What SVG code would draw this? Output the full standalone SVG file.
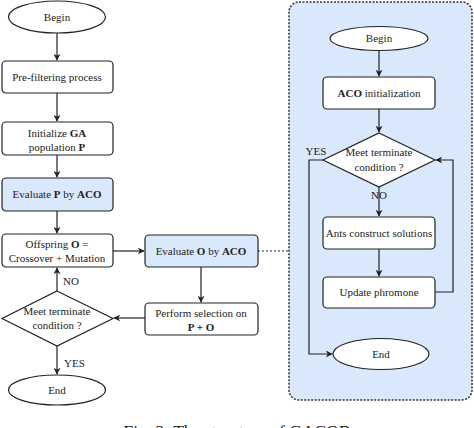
<svg xmlns="http://www.w3.org/2000/svg" width="474" height="428" viewBox="0 0 474 428">
<style>
text{font-family:"Liberation Serif","Times New Roman",serif;font-size:11px;fill:#222;text-anchor:middle}
.b{font-weight:bold}
.n{fill:#fff;stroke:#222;stroke-width:1.2}
.bl{fill:#dae8fc;stroke:#222;stroke-width:1.2}
.c{fill:none;stroke:#222;stroke-width:1.2}
</style>
<defs>
<marker id="a" viewBox="0 0 10 10" refX="9" refY="5" markerWidth="7" markerHeight="7" orient="auto" markerUnits="userSpaceOnUse">
<path d="M0,0 L10,5 L0,10 L3,5 z" fill="#222"/>
</marker>
</defs>
<rect x="289" y="2" width="183" height="398" rx="10" fill="#dae8fc" stroke="#333" stroke-width="1.5" stroke-dasharray="2,1.5"/>
<g id="connectors">
<line class="c" x1="57" y1="33" x2="57" y2="60" marker-end="url(#a)"/>
<line class="c" x1="57" y1="93" x2="57" y2="121" marker-end="url(#a)"/>
<line class="c" x1="57" y1="155" x2="57" y2="177" marker-end="url(#a)"/>
<line class="c" x1="57" y1="211" x2="57" y2="233" marker-end="url(#a)"/>
<line class="c" x1="113" y1="251" x2="144" y2="251" marker-end="url(#a)"/>
<line class="c" x1="258" y1="251" x2="289" y2="251" stroke-dasharray="2,2"/>
<line class="c" x1="201" y1="267" x2="201" y2="302" marker-end="url(#a)"/>
<line class="c" x1="145" y1="318" x2="114" y2="318" marker-end="url(#a)"/>
<line class="c" x1="57" y1="291" x2="57" y2="268" marker-end="url(#a)"/>
<line class="c" x1="57" y1="346" x2="57" y2="374" marker-end="url(#a)"/>
<line class="c" x1="379" y1="50" x2="379" y2="76" marker-end="url(#a)"/>
<line class="c" x1="379" y1="109" x2="379" y2="132" marker-end="url(#a)"/>
<line class="c" x1="379" y1="187" x2="379" y2="216" marker-end="url(#a)"/>
<line class="c" x1="379" y1="249" x2="379" y2="276" marker-end="url(#a)"/>
<polyline class="c" points="435,292 453,292 453,160 436,160" marker-end="url(#a)"/>
<polyline class="c" points="323,160 309,160 309,354 332,354" marker-end="url(#a)"/>
<text x="63" y="285" style="text-anchor:start">NO</text>
<text x="64" y="367" style="text-anchor:start">YES</text>
<text x="379" y="199">NO</text>
<text x="316" y="155">YES</text>
</g>
<g id="begin1"><ellipse class="n" cx="57" cy="17" rx="48.5" ry="16"/><text x="57" y="21">Begin</text></g>
<g id="prefilter"><rect class="n" x="2" y="61" width="111" height="32" rx="4"/><text x="57" y="81">Pre-filtering process</text></g>
<g id="initga"><rect class="n" x="2" y="122" width="111" height="33" rx="4"/><text x="57" y="137">Initialize <tspan class="b">GA</tspan></text><text x="57" y="151">population <tspan class="b">P</tspan></text></g>
<g id="evalp"><rect class="bl" x="2" y="178" width="111" height="33" rx="4"/><text x="57" y="198">Evaluate <tspan class="b">P</tspan> by <tspan class="b">ACO</tspan></text></g>
<g id="offspring"><rect class="n" x="2" y="234" width="111" height="33" rx="4"/><text x="57" y="248">Offspring <tspan class="b">O</tspan> =</text><text x="57" y="262">Crossover + Mutation</text></g>
<g id="evalo"><rect class="bl" x="145" y="235" width="113" height="32" rx="4"/><text x="201" y="255">Evaluate <tspan class="b">O</tspan> by <tspan class="b">ACO</tspan></text></g>
<g id="select"><rect class="n" x="145" y="303" width="113" height="32" rx="4"/><text x="201" y="317">Perform selection on</text><text x="201" y="331" class="b">P + O</text></g>
<g id="cond1"><polygon class="n" points="57,291 113,318.5 57,346 2,318.5"/><text x="57" y="315">Meet terminate</text><text x="57" y="329">condition ?</text></g>
<g id="end1"><ellipse class="n" cx="57" cy="390" rx="48.5" ry="15"/><text x="57" y="394">End</text></g>
<g id="begin2"><ellipse class="n" cx="379" cy="38.5" rx="49" ry="12"/><text x="379" y="42">Begin</text></g>
<g id="acoinit"><rect class="n" x="323" y="77" width="112" height="32" rx="4"/><text x="379" y="97"><tspan class="b">ACO</tspan> initialization</text></g>
<g id="cond2"><polygon class="n" points="379,133 435,160 379,187 323,160"/><text x="379" y="156">Meet terminate</text><text x="379" y="171">condition ?</text></g>
<g id="ants"><rect class="n" x="323" y="217" width="112" height="32" rx="4"/><text x="379" y="237">Ants construct solutions</text></g>
<g id="update"><rect class="n" x="323" y="277" width="112" height="31" rx="4"/><text x="379" y="296">Update phromone</text></g>
<g id="end2"><ellipse class="n" cx="381" cy="354" rx="48" ry="15.5"/><text x="381" y="358">End</text></g>
<text x="237" y="437" style="font-size:17.5px">Fig. 2: The structure of GACOB</text>
</svg>
